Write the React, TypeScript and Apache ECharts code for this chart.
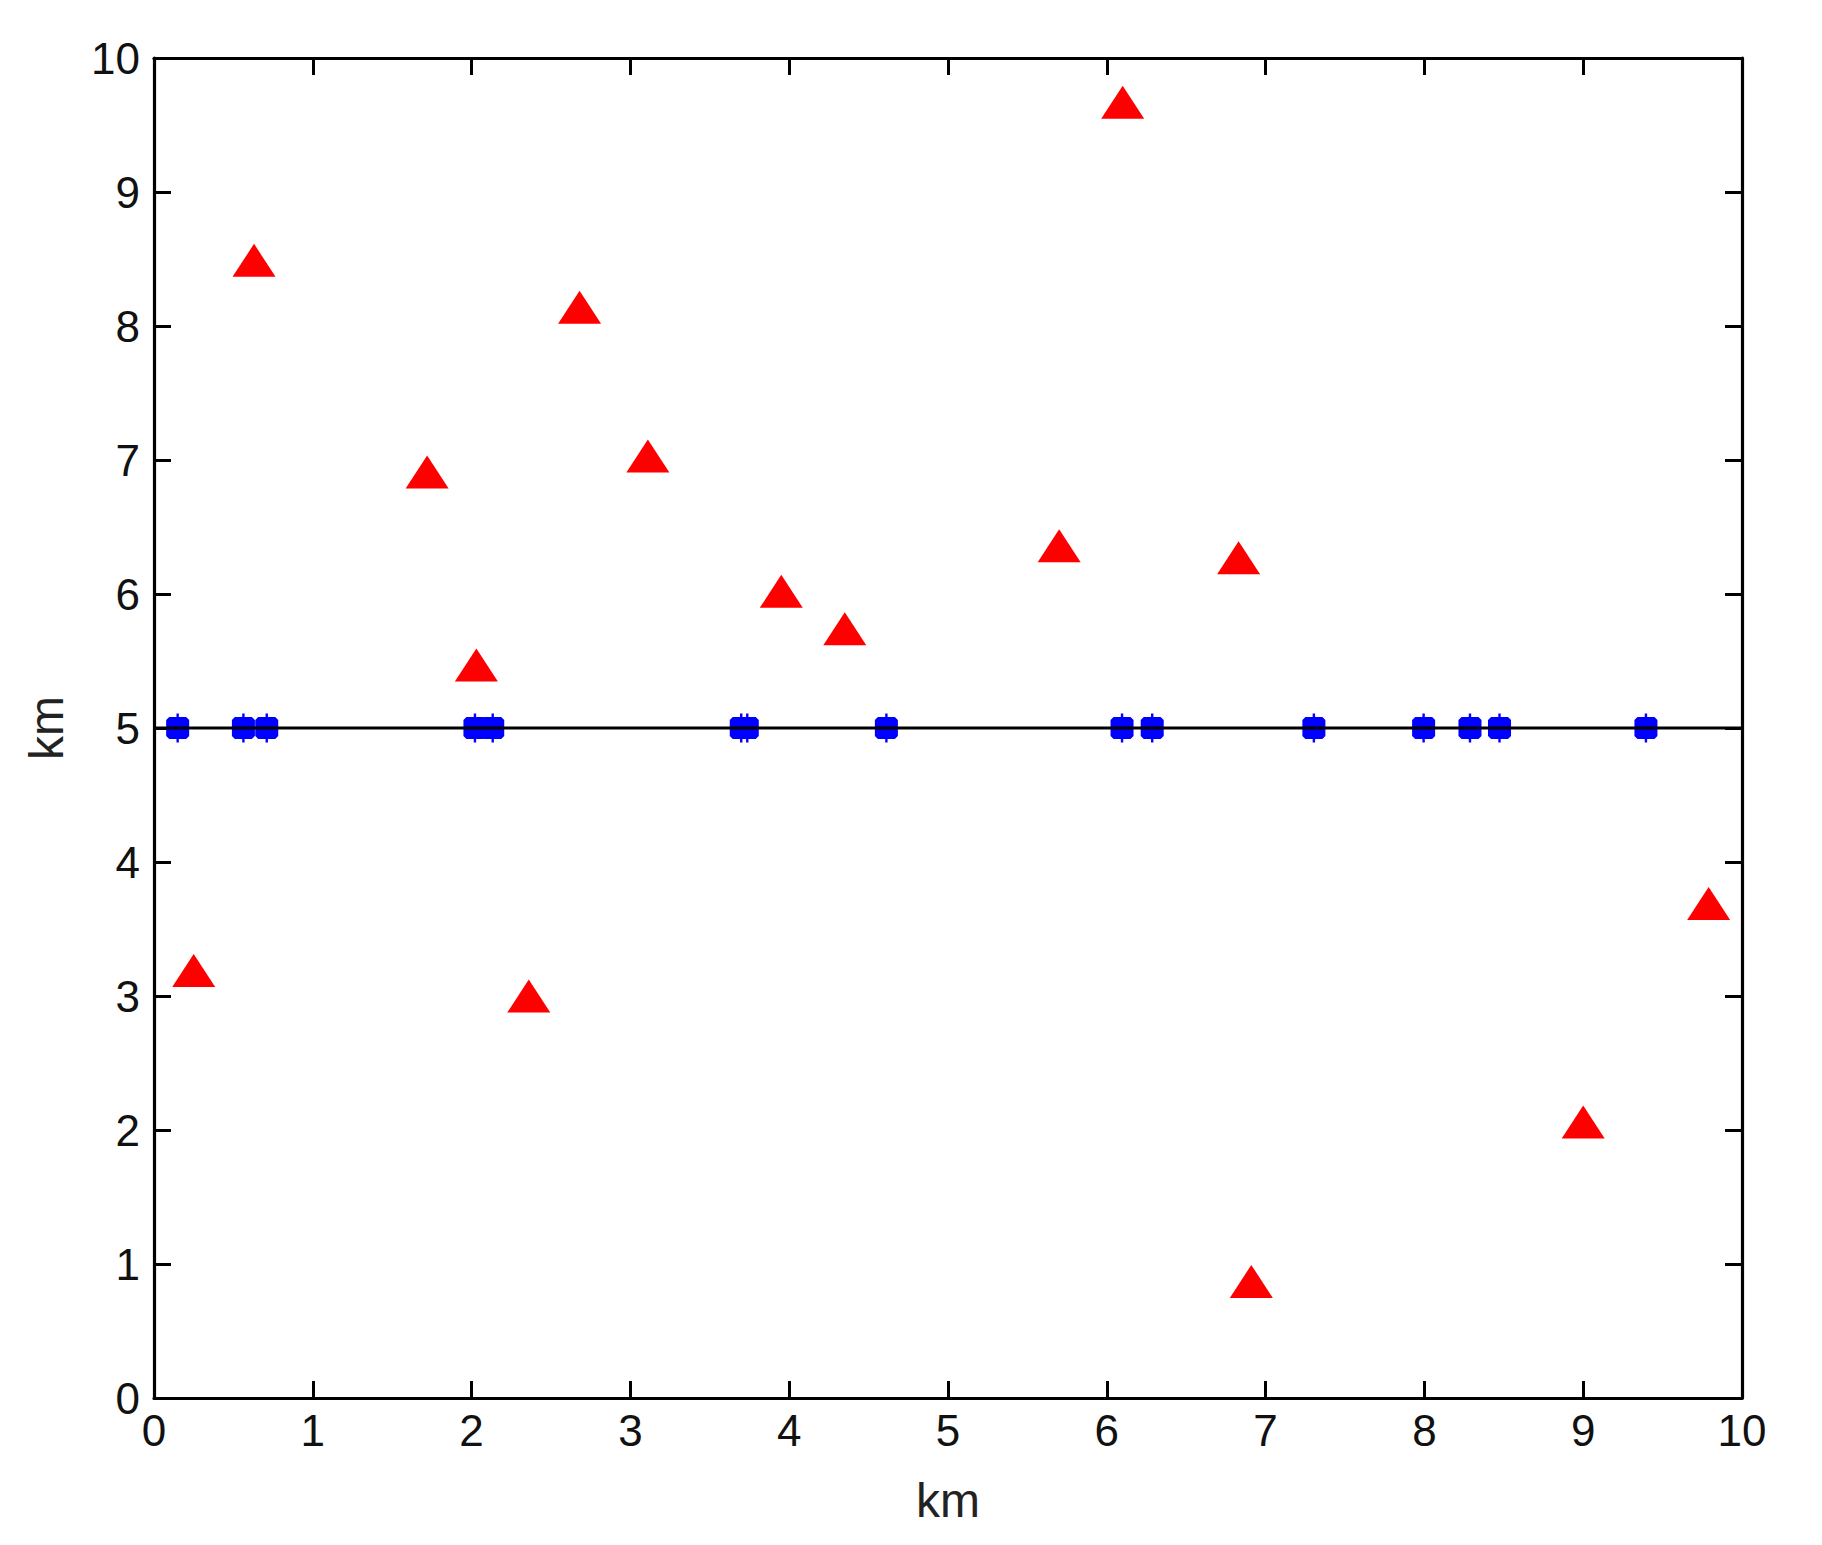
import React, { useEffect, useRef } from "react";
import * as echarts from "echarts";

// Red triangles (x, y) in km
const triangleX = [0.25, 0.63, 1.72, 2.03, 2.36, 2.68, 3.11, 3.95, 4.35, 5.70, 6.10, 6.83, 6.91, 9.00, 9.79];
const triangleY = [3.19, 8.49, 6.91, 5.47, 3.00, 8.14, 7.03, 6.02, 5.74, 6.36, 9.67, 6.27, 0.87, 2.06, 3.69];

// Blue markers along the line y = 5
const blueX = [0.149, 0.563, 0.71, 2.021, 2.133, 3.698, 3.736, 4.612, 6.096, 6.286, 7.304, 7.995, 8.287, 8.473, 9.395];
const blueY = 5;

// Horizontal reference line
const lineX = [0, 10];
const lineY = [5, 5];

const tickValues = [0, 1, 2, 3, 4, 5, 6, 7, 8, 9, 10];
const axisTitle = "km";

const FONT = "'Liberation Sans', Arial, sans-serif";
const BLUE_PATH =
  "path://M10.3 0 L12.7 0 L12.7 3.5 L20 3.5 L23 6.5 L23 22.5 L20 25.5 L12.7 25.5 L12.7 29 L10.3 29 L10.3 25.5 L3 25.5 L0 22.5 L0 6.5 L3 3.5 L10.3 3.5 Z";

export default function App() {
  const ref = useRef<HTMLDivElement>(null);

  useEffect(() => {
    document.body.style.margin = "0";
    document.body.style.overflow = "hidden";
    if (!ref.current) return;
    const chart = echarts.init(ref.current, null, { renderer: "svg" });

    const axisLineStyle = { color: "#000", width: 3.2 };
    const baseAxis = {
      type: "value" as const,
      min: tickValues[0],
      max: tickValues[tickValues.length - 1],
      interval: 1,
      splitLine: { show: false },
      axisLine: { show: true, onZero: false, lineStyle: axisLineStyle },
      axisTick: { show: true, inside: true, length: 17, lineStyle: { color: "#000", width: 3 } },
    };

    chart.setOption({
      animation: false,
      backgroundColor: "#ffffff",
      grid: { left: 154, right: 80, top: 58, bottom: 147, containLabel: false },
      xAxis: [
        {
          ...baseAxis,
          position: "bottom",
          name: axisTitle,
          nameLocation: "middle",
          nameGap: 78,
          nameTextStyle: { fontFamily: FONT, fontSize: 48, color: "#222" },
          axisLabel: { show: true, fontFamily: FONT, fontSize: 44, color: "#111", margin: 10 },
        },
        {
          ...baseAxis,
          position: "top",
          axisLabel: { show: false },
        },
      ],
      yAxis: [
        {
          ...baseAxis,
          position: "left",
          name: axisTitle,
          nameLocation: "middle",
          nameGap: 84,
          nameRotate: 90,
          nameTextStyle: { fontFamily: FONT, fontSize: 48, color: "#222" },
          axisLabel: { show: true, fontFamily: FONT, fontSize: 44, color: "#111", margin: 14 },
        },
        {
          ...baseAxis,
          position: "right",
          axisLabel: { show: false },
        },
      ],
      series: [
        {
          type: "scatter",
          xAxisIndex: 0,
          yAxisIndex: 0,
          data: blueX.map((x) => [x, blueY]),
          symbol: BLUE_PATH,
          symbolSize: [23, 29],
          itemStyle: { color: "#0000ff", opacity: 1 },
          z: 2,
        },
        {
          type: "line",
          xAxisIndex: 0,
          yAxisIndex: 0,
          data: lineX.map((x, i) => [x, lineY[i]]),
          symbol: "none",
          lineStyle: { color: "#000", width: 3.2 },
          z: 3,
        },
        {
          type: "scatter",
          xAxisIndex: 0,
          yAxisIndex: 0,
          data: triangleX.map((x, i) => [x, triangleY[i]]),
          symbol: "triangle",
          symbolSize: [43, 33],
          itemStyle: { color: "#ff0000", opacity: 1 },
          z: 4,
        },
      ],
    });

    return () => chart.dispose();
  }, []);

  return <div ref={ref} style={{ width: 1822, height: 1545 }} />;
}
